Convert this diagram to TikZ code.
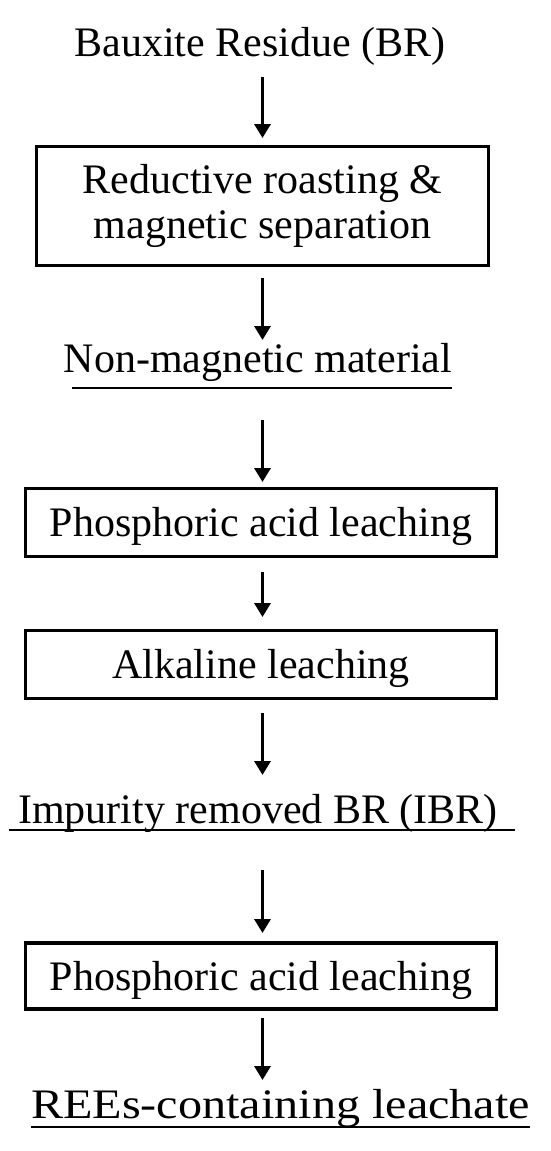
\documentclass[tikz,border=0pt]{standalone}
\usepackage{fontspec}
\setmainfont{Liberation Serif}
\usetikzlibrary{arrows.meta}
\tikzset{
  flow/.style={line width=3.4pt,-{Triangle[width=16pt,length=14pt]}},
  procbox/.style={draw,line width=3.3pt,inner sep=0pt,outer sep=0pt,align=center,
    minimum width=470.5pt,minimum height=68pt},
  oneline/.style={text height=28pt,text depth=0pt},
  prodtext/.style={inner sep=0pt,outer sep=0pt,anchor=base,text height=28pt,text depth=9pt},
  uline/.style={line width=1.8pt}
}
\begin{document}
\begin{tikzpicture}[x=1pt,y=-1pt,font=\fontsize{42}{45}\selectfont]
      \useasboundingbox (0,0) rectangle (550,1151);
      \draw
        (260,56) node[prodtext] (br){Bauxite Residue (BR)}
        (262.5,206) node[procbox,minimum width=452pt,minimum height=119pt] (roast){Reductive roasting \&\\magnetic separation}
        (258,372) node[prodtext] (nonmag){Non-magnetic material}
        (261,522.5) node[procbox,oneline] (acid1){Phosphoric acid leaching}
        (261,664.5) node[procbox,oneline] (alkali){Alkaline leaching}
        (258,823) node[prodtext] (ibr){Impurity removed BR (IBR)}
        (261,976) node[procbox,oneline,minimum height=66pt] (acid2){Phosphoric acid leaching}
        (280.5,1118) node[prodtext] (rees){\scalebox{1.147}[1]{REEs-containing leachate}};
      \draw[uline] (72,388) -- (452,388);
      \draw[uline] (9,830) -- (515,830);
      \draw[uline] (31,1127) -- (530,1127);
      \begin{scope}[flow]
        \draw[shorten <=12pt,shorten >=8.5pt] (br.south -| roast) to (roast.north);
        \draw[shorten <=12.5pt,shorten >=4pt] (roast.south) to (nonmag.north -| roast);
        \draw[shorten <=39pt,shorten >=6.5pt] (nonmag.south -| roast) to (acid1.north -| roast);
        \draw[shorten <=15.5pt,shorten >=13.5pt] (acid1.south -| roast) to (alkali.north -| roast);
        \draw[shorten <=14.5pt,shorten >=20pt] (alkali.south -| roast) to (ibr.north -| roast);
        \draw[shorten <=38pt,shorten >=10pt] (ibr.south -| roast) to (acid2.north -| roast);
        \draw[shorten <=9pt,shorten >=10pt] (acid2.south -| roast) to (rees.north -| roast);
      \end{scope}
    \end{tikzpicture}
\end{document}
